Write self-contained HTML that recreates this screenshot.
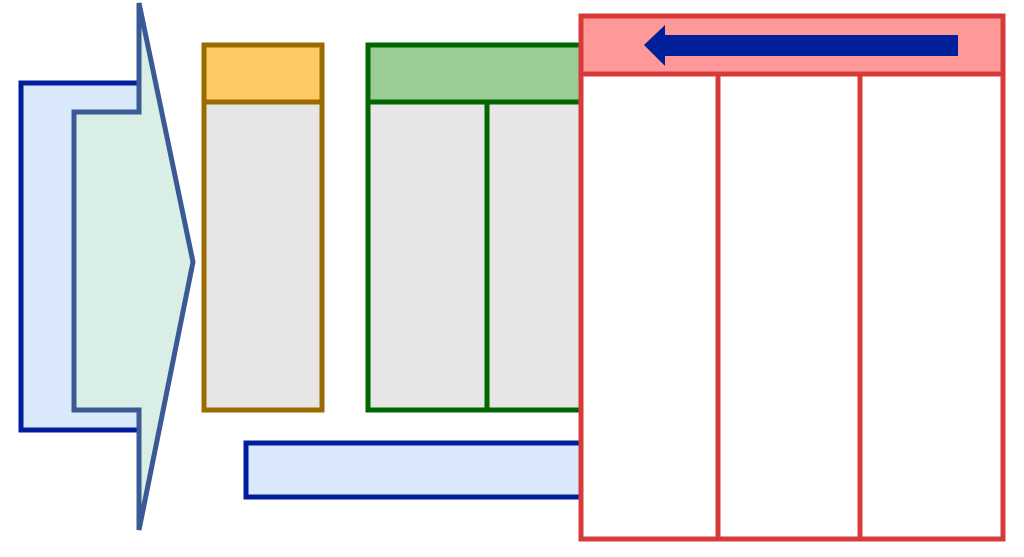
<!DOCTYPE html>
<html><head><meta charset="utf-8"><style>html,body{margin:0;padding:0;background:#fff;width:1024px;height:557px;overflow:hidden}</style></head>
<body>
<svg width="1024" height="557" viewBox="0 0 1024 557" xmlns="http://www.w3.org/2000/svg">
<rect x="21" y="83" width="125" height="347" fill="#dae8fc" stroke="#001d9c" stroke-width="5"/>
<polygon points="74,112 139,112 139,3 193,262 139,530 139,410 74,410" fill="#d9efe5" stroke="#3a5a96" stroke-width="5" stroke-linejoin="miter"/>
<rect x="204" y="102" width="118" height="308" fill="#e6e6e6" stroke="#9c6b00" stroke-width="5"/>
<rect x="204" y="45" width="118" height="57" fill="#ffca66" stroke="#9c6b00" stroke-width="5"/>
<rect x="368" y="102" width="240" height="308" fill="#e6e6e6" stroke="#006600" stroke-width="5"/>
<line x1="487" y1="102" x2="487" y2="410" stroke="#006600" stroke-width="5"/>
<rect x="368" y="45" width="240" height="57" fill="#9acd96" stroke="#006600" stroke-width="5"/>
<rect x="246" y="443" width="360" height="54" fill="#dae8fc" stroke="#001d9c" stroke-width="5"/>
<rect x="581" y="74" width="422" height="465" fill="#fff" stroke="#d83a3a" stroke-width="5"/>
<line x1="718" y1="74" x2="718" y2="539" stroke="#d83a3a" stroke-width="5"/>
<line x1="860" y1="74" x2="860" y2="539" stroke="#d83a3a" stroke-width="5"/>
<rect x="581" y="16" width="422" height="58" fill="#ff9999" stroke="#d83a3a" stroke-width="5"/>
<polygon points="958,35 665,35 665,25 644,45 665,66 665,56 958,56" fill="#00209a"/>
</svg>
</body></html>
